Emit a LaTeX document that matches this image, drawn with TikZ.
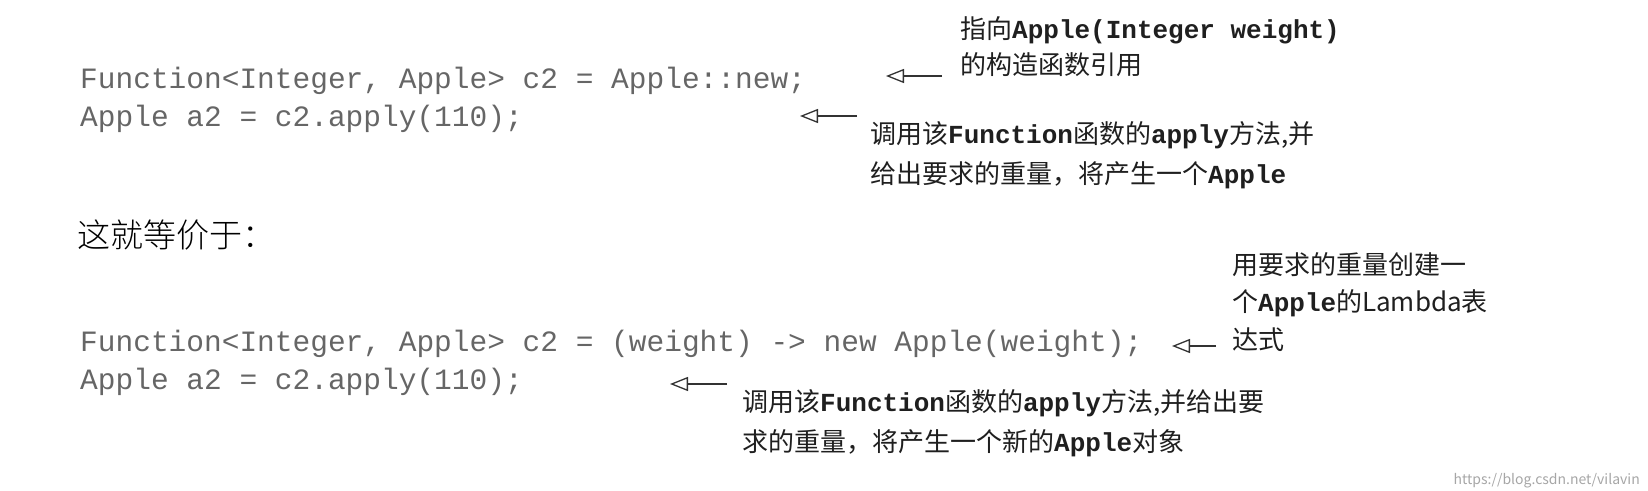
\documentclass[tikz,border=0pt]{standalone}
\usepackage{fontspec}
\usetikzlibrary{arrows.meta}
\setmainfont{Noto Sans CJK SC}
\setmonofont{Liberation Mono}
\newfontfamily\cjk{Noto Sans CJK SC}
\newfontfamily\cjklight{Noto Sans CJK SC Light}
\newcommand{\bt}[1]{{\ttfamily\bfseries #1}}
\begin{document}
\begin{tikzpicture}[x=1pt,y=-1pt,
  code/.style={anchor=base west,inner sep=0,font=\fontsize{29.5}{36}\ttfamily,text=black!60},
  note/.style={anchor=base west,inner sep=0,font=\fontsize{26}{38}\cjk,text=black!88},
  arr/.style={draw=black!80,line width=1.3pt,-{Triangle[open,length=18pt,width=14pt,line width=1.3pt]}}]
\useasboundingbox (0,0) rectangle (1648,490);
\node[code] (l1) at (80,88) {Function<Integer, Apple> c2 = Apple::new;};
\node[code] (l2) at (80,126) {Apple a2 = c2.apply(110);};
\node[code] (l3) at (80,351) {Function<Integer, Apple> c2 = (weight) -> new Apple(weight);};
\node[code] (l4) at (80,389) {Apple a2 = c2.apply(110);};
\node[anchor=base west,inner sep=0,font=\fontsize{33}{40}\cjklight] (mid) at (77,247) {这就等价于：};
\node[note] (n1a) at (960,38) {指向\bt{Apple(Integer weight)}};
\node[note] (n1b) at (960,74) {的构造函数引用};
\node[note] (n2a) at (870,143) {调用该\bt{Function}函数的\bt{apply}方法,并};
\node[note] (n2b) at (870,183) {给出要求的重量，将产生一个\bt{Apple}};
\node[note] (n3a) at (1232,274) {用要求的重量创建一};
\node[note] (n3b) at (1232,311) {个\bt{Apple}的Lambda表};
\node[note] (n3c) at (1232,349) {达式};
\node[note] (n4a) at (742,411) {调用该\bt{Function}函数的\bt{apply}方法,并给出要};
\node[note] (n4b) at (742,451) {求的重量，将产生一个新的\bt{Apple}对象};
\coordinate (a1s) at (942,76); \coordinate (a1e) at (886,76);
\coordinate (a2s) at (857,116); \coordinate (a2e) at (800,116);
\coordinate (a3s) at (1216,346); \coordinate (a3e) at (1172,346);
\coordinate (a4s) at (727,384); \coordinate (a4e) at (670,384);
\draw[arr] (a1s) -- (a1e);
\draw[arr] (a2s) -- (a2e);
\draw[arr] (a3s) -- (a3e);
\draw[arr] (a4s) -- (a4e);
\node[anchor=base east,inner sep=0,font=\fontsize{14}{16}\selectfont,text=black!35] (wm) at (1640,484) {https://blog.csdn.net/vilavin};
\end{tikzpicture}
\end{document}
